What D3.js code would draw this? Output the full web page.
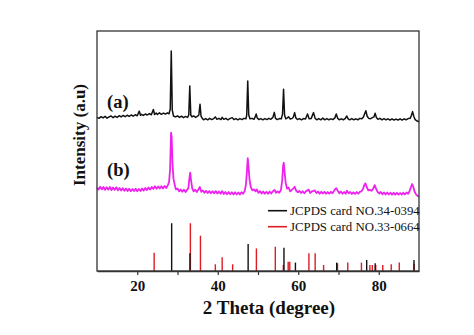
<!DOCTYPE html>
<html><head><meta charset="utf-8">
<script src="https://cdn.jsdelivr.net/npm/d3@7"></script>
<style>body{margin:0;background:#fff}svg{display:block}</style>
</head><body><svg id="c" width="474" height="335"></svg>
<script>
// Series (a): black measured pattern [2θ, intensity a.u.]
const seriesA = [[10,64.0],[10.5,63.6],[11,64.3],[11.5,63.8],[12,64.4],[12.5,63.7],[13,64.2],[13.5,64.6],[14,63.9],[14.5,64.5],[15,64.0],[15.5,64.7],[16,64.2],[16.5,64.8],[17,64.3],[17.5,64.9],[18,64.4],[18.5,65.0],[19,64.5],[19.5,65.1],[20,64.7],[20.5,66.6],[20.8,64.9],[21,65.3],[21.5,64.8],[22,65.4],[22.5,65.0],[23,65.6],[23.5,65.1],[24,67.3],[24.3,65.2],[24.7,65.8],[25,65.2],[25.5,65.9],[26,65.3],[26.5,65.8],[27,65.4],[27.5,65.9],[27.9,65.5],[28.2,67.5],[28.45,91.7],[28.7,67.0],[29,64.6],[29.5,64.2],[30,64.6],[30.5,64.0],[31,64.5],[31.5,63.9],[32,64.4],[32.5,64.0],[32.8,65.0],[33.05,77.1],[33.3,65.0],[33.6,64.2],[34,64.6],[34.5,64.0],[35,64.5],[35.3,65.0],[35.6,69.5],[35.85,64.5],[36.2,63.5],[36.5,63.0],[37,63.5],[37.5,63.0],[38,63.6],[38.5,63.1],[39,63.5],[39.4,64.2],[39.8,63.2],[40.3,63.6],[40.8,63.1],[41.1,64.0],[41.5,63.2],[42,63.6],[42.5,63.0],[43,63.5],[43.6,63.9],[44,63.1],[44.5,63.5],[45,63.0],[45.5,63.5],[46,63.1],[46.5,63.6],[47,63.4],[47.2,65.0],[47.45,79.2],[47.7,65.0],[48,63.4],[48.5,63.6],[49,63.2],[49.3,64.2],[49.55,65.4],[49.8,63.8],[50.2,63.1],[50.7,63.5],[51.2,63.0],[51.7,63.5],[52.2,63.1],[52.7,63.6],[53.2,63.2],[53.7,64.0],[54.05,66.1],[54.35,63.6],[54.8,63.1],[55.3,63.5],[55.8,63.4],[56.1,65.5],[56.35,75.7],[56.6,65.0],[56.9,63.4],[57.3,63.8],[57.6,64.3],[58,63.3],[58.5,63.6],[58.8,64.2],[59.1,66.0],[59.4,63.8],[59.8,63.1],[60.3,63.5],[60.8,63.0],[61.3,63.5],[61.8,63.3],[62.3,65.4],[62.7,63.4],[63.2,63.5],[63.8,66.0],[64.2,63.6],[64.6,63.0],[65.1,63.5],[65.6,63.0],[66.1,63.7],[66.6,63.0],[67.1,63.5],[67.6,63.0],[68.1,63.4],[68.6,63.1],[69.1,63.8],[69.45,65.4],[69.8,63.6],[70.2,63.0],[70.7,63.4],[71.2,63.0],[71.7,63.6],[72.05,64.6],[72.4,63.4],[72.8,63.0],[73.3,63.5],[73.8,63.0],[74.3,63.4],[74.8,63.0],[75.3,63.6],[75.8,63.4],[76.2,64.2],[76.5,65.5],[76.8,66.8],[77.1,64.6],[77.5,63.6],[77.9,63.4],[78.3,63.8],[78.8,64.2],[79.1,65.7],[79.4,64.0],[79.8,63.2],[80.3,63.6],[80.8,63.0],[81.3,63.5],[81.8,63.0],[82.3,63.4],[82.8,62.9],[83.3,63.4],[83.8,62.9],[84.3,63.3],[84.8,62.9],[85.3,63.4],[85.8,62.9],[86.3,63.4],[86.8,63.0],[87.3,63.5],[87.8,63.6],[88.1,64.8],[88.4,66.4],[88.7,64.5],[89,63.2],[89.4,62.6],[90,62.2]];

// Series (b): magenta measured pattern
const seriesB = [[10,34.8],[10.4,33.9],[10.8,35.1],[11.2,34.0],[11.6,35.0],[12,33.8],[12.4,34.9],[12.8,33.9],[13.2,35.0],[13.6,33.7],[14,34.8],[14.4,33.8],[14.8,34.9],[15.2,33.6],[15.6,34.6],[16,33.5],[16.4,34.5],[16.8,33.4],[17.2,34.4],[17.6,33.3],[18,34.3],[18.4,33.2],[18.8,34.2],[19.2,33.3],[19.6,34.3],[20,33.2],[20.4,34.2],[20.8,33.3],[21.2,34.4],[21.6,33.5],[22,34.6],[22.4,33.7],[22.8,34.8],[23.2,33.9],[23.6,35.0],[24,34.2],[24.4,35.3],[24.8,34.3],[25.2,35.2],[25.6,34.4],[26,35.3],[26.4,34.4],[26.8,35.4],[27.2,34.6],[27.6,35.8],[27.9,37.0],[28.15,42.0],[28.4,57.6],[28.55,56.0],[28.75,45.0],[29.0,38.5],[29.3,36.0],[29.6,34.0],[30,34.4],[30.4,33.2],[30.8,34.0],[31.2,33.0],[31.6,33.9],[32,32.9],[32.4,33.9],[32.7,34.5],[32.95,38.5],[33.15,41.0],[33.35,38.0],[33.65,34.5],[34,33.2],[34.4,33.9],[34.8,32.9],[35.2,34.0],[35.55,35.0],[35.9,33.0],[36.3,33.6],[36.7,32.6],[37.1,33.4],[37.5,32.5],[37.9,33.3],[38.3,32.4],[38.7,33.2],[39.1,32.4],[39.5,33.3],[39.9,32.3],[40.3,33.1],[40.7,32.2],[41.1,33.3],[41.5,32.1],[41.9,32.9],[42.3,32.0],[42.7,32.9],[43.1,32.0],[43.5,32.8],[43.9,31.9],[44.3,32.8],[44.7,31.9],[45.1,32.7],[45.5,31.9],[45.9,32.8],[46.3,32.2],[46.7,33.4],[47.0,36.0],[47.25,41.5],[47.45,47.0],[47.65,43.5],[47.9,38.0],[48.2,35.0],[48.6,33.6],[49.0,34.0],[49.4,33.2],[49.7,34.0],[50.1,32.6],[50.5,33.3],[50.9,32.3],[51.3,33.1],[51.7,32.2],[52.1,33.0],[52.5,32.2],[52.9,33.1],[53.3,32.3],[53.7,33.2],[54.1,33.8],[54.5,32.6],[54.9,33.2],[55.3,32.6],[55.7,33.8],[56.0,37.5],[56.25,44.0],[56.4,45.1],[56.6,41.5],[56.85,37.0],[57.2,34.3],[57.6,34.8],[58.0,33.2],[58.4,33.8],[58.8,34.4],[59.1,35.1],[59.5,33.4],[59.9,32.8],[60.3,33.4],[60.7,32.5],[61.1,33.2],[61.5,32.4],[61.9,33.2],[62.3,33.6],[62.6,33.9],[63.0,32.5],[63.4,33.2],[63.8,33.4],[64.1,33.6],[64.5,32.5],[64.9,33.1],[65.3,32.2],[65.7,33.0],[66.1,32.3],[66.5,33.0],[66.9,32.2],[67.3,32.9],[67.7,32.2],[68.1,33.0],[68.5,32.4],[68.9,33.4],[69.2,34.2],[69.45,34.5],[69.8,33.4],[70.2,32.4],[70.6,33.1],[71.0,32.2],[71.4,32.9],[71.8,32.2],[72.1,33.5],[72.5,32.4],[72.9,32.9],[73.3,32.1],[73.7,32.8],[74.1,32.1],[74.5,32.9],[74.9,32.2],[75.3,33.0],[75.7,33.2],[76.1,34.2],[76.4,35.8],[76.7,36.5],[77.0,35.0],[77.4,33.6],[77.8,33.8],[78.2,33.4],[78.6,34.2],[79.0,35.8],[79.3,34.4],[79.7,33.0],[80.1,32.3],[80.5,32.9],[80.9,32.0],[81.3,32.7],[81.7,31.9],[82.1,32.7],[82.5,31.9],[82.9,32.6],[83.3,31.8],[83.7,32.6],[84.1,31.8],[84.5,32.6],[84.9,31.8],[85.3,32.5],[85.7,31.8],[86.1,32.6],[86.5,31.9],[86.9,32.7],[87.3,32.2],[87.7,33.5],[88.0,35.0],[88.3,36.25],[88.6,35.0],[88.9,33.0],[89.3,31.8],[89.7,31.2],[90,31.0]];

// Reference cards: [2θ, stick height a.u.]
const card34_0394 = [[28.55,19.9],[33.1,7.4],[47.55,11.2],[56.45,9.7],[59.3,3.5],[69.55,3.5],[77.0,4.6],[79.1,3.2],[88.75,4.6]];
const card33_0664 = [[24.2,7.6],[33.2,19.9],[35.7,14.7],[39.4,2.8],[41.1,5.7],[43.7,2.8],[49.6,9.4],[54.3,10.1],[56.3,2.5],[57.5,3.9],[57.9,3.9],[62.65,7.4],[64.2,7.4],[66.3,2.5],[69.75,3.2],[72.3,3.5],[75.7,3.5],[77.8,2.5],[78.4,2.5],[79.25,2.5],[81.0,2.5],[83.1,2.8],[85.1,3.5],[88.8,3.0]];

const xTicks = [20,30,40,50,60,70,80];
const xLabels = ["20","","40","","60","","80"];
const legendLabels = ["JCPDS card NO.34-0394","JCPDS card NO.33-0664"];
const sampleLabels = ["(a)","(b)"];

const colA = "#111111", colB = "#ee22ee", colBlack = "#111111", colRed = "#dd1c24";
const serif = "'Liberation Serif','Times New Roman',serif";

const svg = d3.select("#c");
const x = d3.scaleLinear().domain([10,90]).range([97,419]);
const y = d3.scaleLinear().domain([0,100]).range([271,31]);

const line = d3.line().x(d=>x(d[0])).y(d=>y(d[1]));

// sticks
svg.append("g").selectAll("line").data(card33_0664).join("line")
  .attr("x1",d=>x(d[0])).attr("x2",d=>x(d[0]))
  .attr("y1",y(0)).attr("y2",d=>y(d[1]))
  .attr("stroke",colRed).attr("stroke-width",1.4);
svg.append("g").selectAll("line").data(card34_0394).join("line")
  .attr("x1",d=>x(d[0])).attr("x2",d=>x(d[0]))
  .attr("y1",y(0)).attr("y2",d=>y(d[1]))
  .attr("stroke",colBlack).attr("stroke-width",1.4);

svg.append("path").datum(seriesB).attr("d",line)
  .attr("fill","none").attr("stroke",colB).attr("stroke-width",1.8).attr("stroke-linejoin","round");
svg.append("path").datum(seriesA).attr("d",line)
  .attr("fill","none").attr("stroke",colA).attr("stroke-width",1.5).attr("stroke-linejoin","round");

// frame
svg.append("rect").attr("x",97).attr("y",31).attr("width",322).attr("height",240)
  .attr("fill","none").attr("stroke","#333").attr("stroke-width",1.3);

// x axis
const ax = svg.append("g").attr("transform","translate(0,271)")
  .call(d3.axisBottom(x).tickValues(xTicks).tickFormat((d,i)=>xLabels[i]).tickSize(4).tickSizeOuter(0).tickPadding(5));
ax.select(".domain").attr("stroke","#333").attr("stroke-width",1.3);
ax.selectAll(".tick line").attr("stroke","#333").attr("stroke-width",1.2);
ax.selectAll(".tick text").attr("font-family",serif).attr("font-weight","bold").attr("font-size",15).attr("fill","#111");

svg.append("text").attr("x",269).attr("y",314).attr("text-anchor","middle")
  .attr("font-family",serif).attr("font-weight","bold").attr("font-size",19).attr("fill","#111")
  .text("2 Theta (degree)");
svg.append("text").attr("transform","translate(85,135) rotate(-90)").attr("text-anchor","middle")
  .attr("font-family",serif).attr("font-weight","bold").attr("font-size",17).attr("fill","#111")
  .text("Intensity (a.u)");

// sample labels
svg.append("text").attr("x",107).attr("y",108).attr("font-family",serif).attr("font-weight","bold")
  .attr("font-size",18.5).attr("fill","#111").text(sampleLabels[0]);
svg.append("text").attr("x",107).attr("y",176).attr("font-family",serif).attr("font-weight","bold")
  .attr("font-size",18.5).attr("fill","#111").text(sampleLabels[1]);

// legend
const lg = svg.append("g");
[colBlack,colRed].forEach((c,i)=>{
  const ly = 210.7 + i*16;
  lg.append("line").attr("x1",268).attr("x2",287).attr("y1",ly).attr("y2",ly).attr("stroke",c).attr("stroke-width",1.6);
  lg.append("text").attr("x",290).attr("y",ly+4.5).attr("font-family",serif).attr("font-size",12.8).attr("fill","#111").text(legendLabels[i]);
});
</script></body></html>
